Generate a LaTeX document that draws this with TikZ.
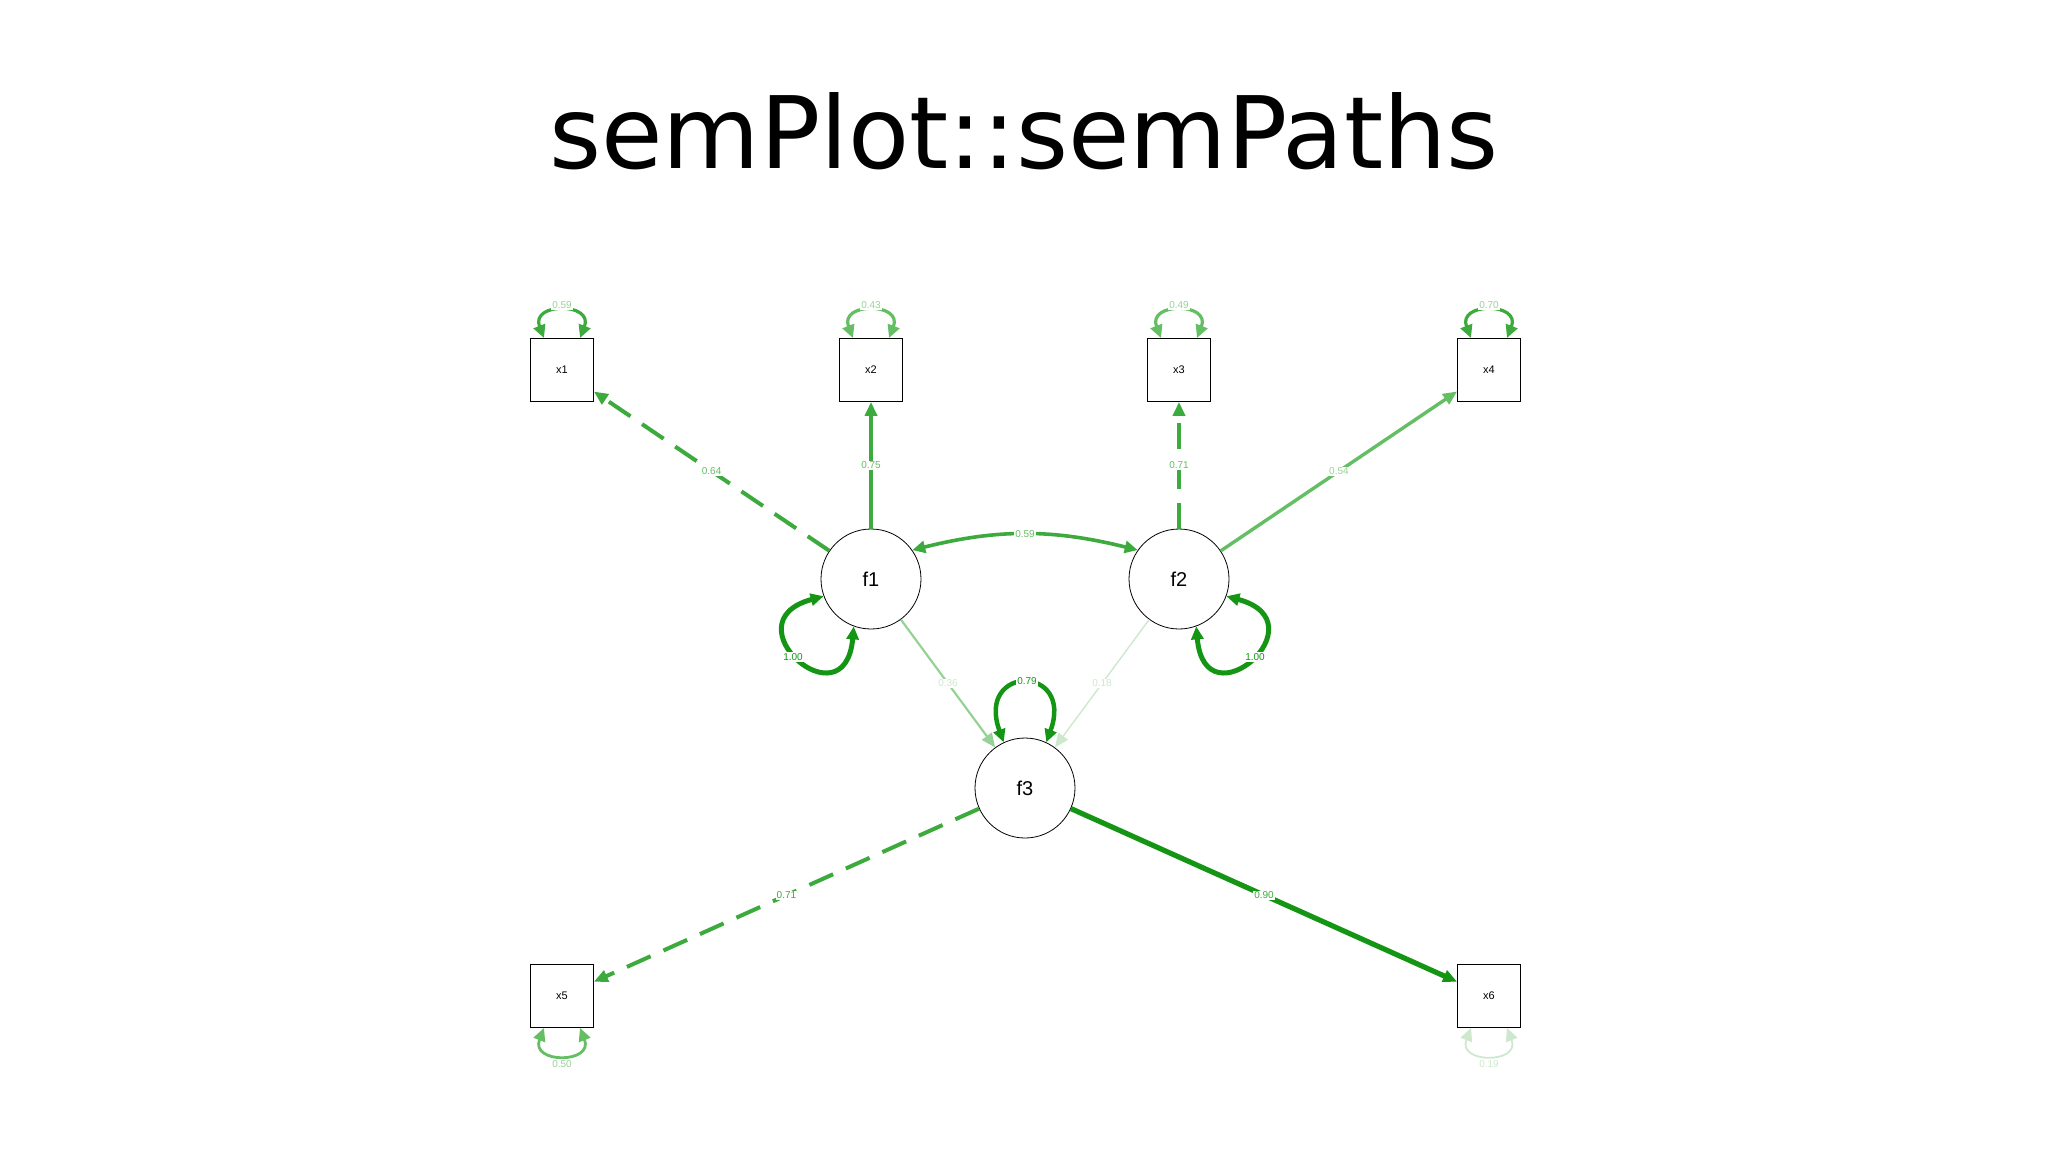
\documentclass[tikz,border=0pt]{standalone}
\usepackage{fontspec}
\setmainfont{DejaVu Sans}
\newfontfamily\lab{Liberation Sans}
\usetikzlibrary{arrows.meta}
\definecolor{gA}{RGB}{20,150,20}
\definecolor{gB}{RGB}{60,170,60}
\definecolor{gC}{RGB}{100,190,100}
\definecolor{gD}{RGB}{150,210,150}
\definecolor{gE}{RGB}{205,232,205}
\begin{document}
\begin{tikzpicture}[x=1pt,y=1pt,
  man/.style={draw,thick,rectangle,minimum size=63pt,inner sep=0pt,font=\lab\fontsize{11}{11}\selectfont},
  lat/.style={draw,thick,circle,minimum size=100pt,inner sep=0pt,font=\lab\fontsize{20}{20}\selectfont},
  edge/.style={-{Triangle[length=14pt,width=12pt]}},
  dbl/.style={{Triangle[length=13pt,width=12pt]}-{Triangle[length=13pt,width=12pt]}},
  lbl/.style={fill=white,inner sep=1pt,font=\lab\fontsize{10}{10}\selectfont},
]
\useasboundingbox (0,0) rectangle (2048,-1152);
\node[font=\fontsize{100}{110}\selectfont] (title) at (1024,-131) {semPlot::semPaths};
\node[man] (x1) at (562,-370) {x1};
\node[man] (x2) at (871,-370) {x2};
\node[man] (x3) at (1179,-370) {x3};
\node[man] (x4) at (1489,-370) {x4};
\node[man] (x5) at (562,-996) {x5};
\node[man] (x6) at (1489,-996) {x6};
\node[lat] (f1) at (871,-579) {f1};
\node[lat] (f2) at (1179,-579) {f2};
\node[lat] (f3) at (1025,-788) {f3};
% loadings
\draw[edge,gB,line width=4pt,dash pattern=on 26pt off 14pt] (f1) -- node[lbl,text=gC]{0.64} (x1);
\draw[edge,gB,line width=4.2pt] (f1) -- node[lbl,text=gC]{0.75} (x2);
\draw[edge,gB,line width=4pt,dash pattern=on 26pt off 14pt] (f2) -- node[lbl,text=gC]{0.71} (x3);
\draw[edge,gC,line width=3.4pt] (f2) -- node[lbl,text=gD]{0.54} (x4);
\draw[edge,gD,line width=2.2pt] (f1) -- node[lbl,text=gE]{0.36} (f3);
\draw[edge,gE,line width=1.4pt] (f2) -- node[lbl,text=gE]{0.18} (f3);
\draw[edge,gB,line width=4pt,dash pattern=on 26pt off 14pt] (f3) -- node[lbl,text=gB]{0.71} (x5);
\draw[edge,gA,line width=5.2pt] (f3) -- node[lbl,text=gB]{0.90} (x6);
% covariance
\draw[dbl,gB,line width=3.6pt] (f1.35) to[bend left=14] node[lbl,text=gC]{0.59} (f2.145);
% latent variances
\draw[dbl,gA,line width=5pt] (f1.200) to[out=195,in=265,looseness=6] (f1.250);
\node[lbl,text=gA] (v1) at (793,-657) {1.00};
\draw[dbl,gA,line width=5pt] (f2.-20) to[out=-15,in=-85,looseness=6] (f2.-70);
\node[lbl,text=gA] (v2) at (1255,-657) {1.00};
\draw[dbl,gA,line width=4.5pt] (f3.115) to[out=110,in=70,looseness=5] (f3.65);
\node[lbl,text=gA] (v3) at (1027,-681) {0.79};
% residuals
\foreach \n/\v/\c in {x1/0.59/gB,x2/0.43/gC,x3/0.49/gC,x4/0.70/gB}{
  \draw[dbl,\c,line width=3.2pt] ([xshift=-18pt]\n.north) .. controls +(-14,36) and +(14,36) .. ([xshift=18pt]\n.north);
  \node[lbl,text=gD] at ([yshift=65pt]\n.center) {\v};
}
\draw[dbl,gC,line width=2.8pt] ([xshift=-18pt]x5.south) .. controls +(-14,-36) and +(14,-36) .. ([xshift=18pt]x5.south);
\node[lbl,text=gD] (r5) at (562,-1064) {0.50};
\draw[dbl,gE,line width=1.8pt] ([xshift=-18pt]x6.south) .. controls +(-14,-36) and +(14,-36) .. ([xshift=18pt]x6.south);
\node[lbl,text=gE] (r6) at (1489,-1064) {0.19};
\end{tikzpicture}
\end{document}
